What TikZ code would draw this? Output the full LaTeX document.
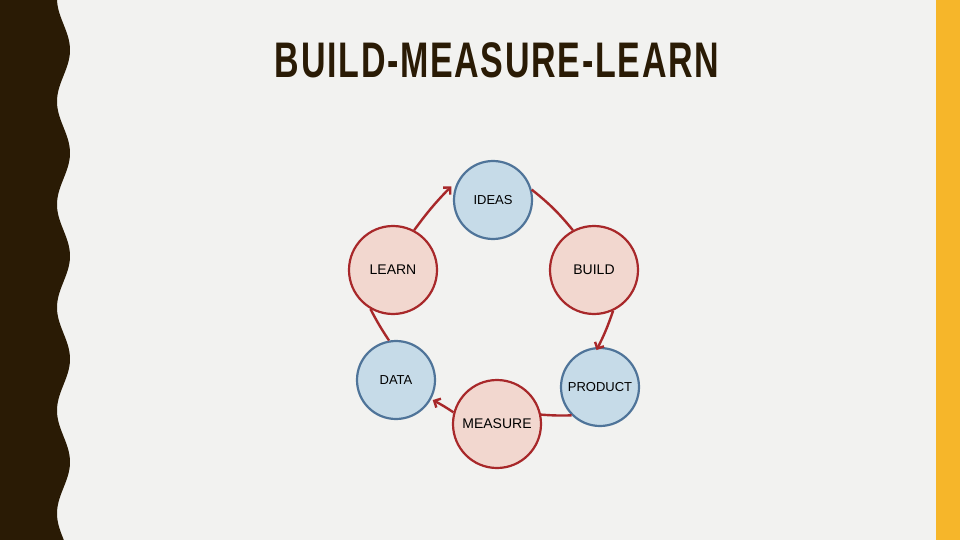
\documentclass[tikz,border=0pt]{standalone}
\usepackage{fontspec}
\setmainfont{Liberation Sans}
\usetikzlibrary{arrows.meta}
\definecolor{bg}{HTML}{F2F2F0}
\definecolor{dark}{HTML}{2A1B05}
\definecolor{gold}{HTML}{F6B62A}
\definecolor{rfill}{HTML}{F2D7CF}
\definecolor{rline}{HTML}{A8282A}
\definecolor{bfill}{HTML}{C6DBE8}
\definecolor{bline}{HTML}{4F7499}
\tikzset{
 redc/.style={circle,draw=rline,fill=rfill,line width=2.2pt,minimum size=88pt,inner sep=0pt,font=\fontsize{14}{14}\selectfont,text=black},
 bluec/.style={circle,draw=bline,fill=bfill,line width=2.2pt,minimum size=78pt,inner sep=0pt,font=\fontsize{13}{13}\selectfont,text=black},
 link/.style={draw=rline,line width=2.4pt},
 arr/.style={link,-{Straight Barb[length=5pt,width=10pt]}}
}
\begin{document}
\begin{tikzpicture}[x=1pt,y=-1pt]
\fill[bg] (0,0) rectangle (960,540);
\useasboundingbox (0,0) rectangle (960,540);
\fill[gold] (936,0) rectangle (960,540);
\fill[dark] (0,0) -- plot[domain=0:540,samples=200,smooth] ({63.5+6.5*cos(3.4951*(\x-50))},\x) -- (0,540) -- cycle;
\node[font=\fontsize{50}{50}\selectfont\bfseries\addfontfeatures{LetterSpace=5},text=dark,xscale=0.68] (title) at (497,60) {BUILD-MEASURE-LEARN};
\node[bluec] (ideas) at (493,200) {IDEAS};
\node[redc] (build) at (594,270) {BUILD};
\node[bluec] (product) at (600,387) {PRODUCT};
\node[redc] (measure) at (497,424) {MEASURE};
\node[bluec] (data) at (396,380) {DATA};
\node[redc] (learn) at (393,270) {LEARN};
\draw[arr] (learn.62) to[bend left=4] ([xshift=-4pt]ideas.160);
\draw[link] (ideas.15) to[bend left=6] (build.118);
\draw[arr] (build.295) to[bend left=4] ([yshift=-3pt]product.95);
\draw[link] (product.225) to[bend left=3] (measure.12);
\draw[arr] (measure.165) to[bend left=-3] ([xshift=2pt]data.330);
\draw[link] (data.100) to[bend left=3] (learn.240);
\end{tikzpicture}
\end{document}
